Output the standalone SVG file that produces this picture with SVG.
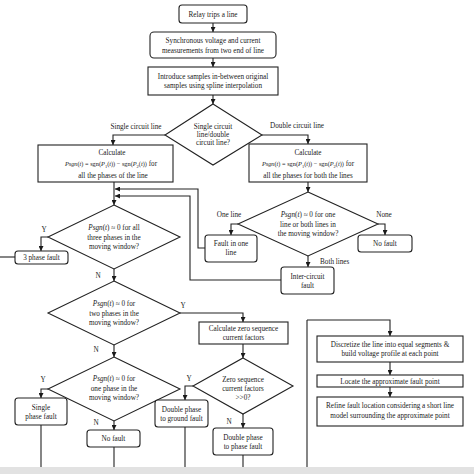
<svg xmlns="http://www.w3.org/2000/svg" width="474" height="474" viewBox="0 0 474 474">
<defs>
<style>
.b{fill:#fff;stroke:#222;stroke-width:1.1}
.l{fill:none;stroke:#222;stroke-width:1.1}
.a{fill:none;stroke:#222;stroke-width:1.1;marker-end:url(#ah)}
text{font-family:"Liberation Serif","Times New Roman",serif;font-size:7.2px;fill:#1a1a1a;text-anchor:middle}
.s{text-anchor:start}
.i{font-style:italic}
.fm{font-size:6.3px}
.sb{font-size:4.5px}
</style>
<marker id="ah" viewBox="0 0 6 6" refX="6" refY="3" markerWidth="5" markerHeight="5" orient="auto" markerUnits="userSpaceOnUse"><path d="M0,0 L6,3 L0,6 z" fill="#1a1a1a"/></marker>
</defs>
<rect x="0" y="0" width="474" height="474" fill="#fff"/>
<rect x="0" y="467" width="474" height="7" fill="#e2e2e2"/>

<g id="connectors">
<path class="a" d="M213,23 V32"/>
<path class="a" d="M213,58 V67"/>
<path class="a" d="M213,95 V104"/>
<path class="a" d="M165,135 H113 V145"/>
<path class="a" d="M262,135 H308 V144"/>
<path class="a" d="M114,182 V205"/>
<path class="a" d="M308,182 V192"/>
<path class="a" d="M205,248 H198 V189 H115"/>
<path class="a" d="M281,280 H190 V196 H115"/>
<path class="a" d="M238,224 H231 V235"/>
<path class="a" d="M378,224 H385 V235"/>
<path class="a" d="M308,256 V267"/>
<path class="a" d="M48,237 H41 V251"/>
<path class="l" d="M0,257 H15"/>
<path class="a" d="M114,269 V281"/>
<path class="a" d="M180,313 H243 V322"/>
<path class="a" d="M114,345 V357"/>
<path class="a" d="M243,344 V358"/>
<path class="a" d="M48,389 H41 V398"/>
<path class="a" d="M114,421 V430"/>
<path class="a" d="M193,386 H185 V400"/>
<path class="a" d="M243,414 V428"/>
<path class="l" d="M41,425 V467"/>
<path class="l" d="M114,447 V467"/>
<path class="l" d="M185,427 V467"/>
<path class="l" d="M243,455 V467"/>
<path class="l" d="M307,467 V320"/>
<path class="a" d="M307,320 H390 V336"/>
<path class="a" d="M390,362 V375"/>
<path class="a" d="M390,387 V397"/>
<text x="136" y="129">Single circuit line</text>
<text x="297" y="128">Double circuit line</text>
<text x="229" y="217">One line</text>
<text x="384" y="217">None</text>
<text class="s" x="320" y="264">Both lines</text>
<text x="44" y="232">Y</text>
<text x="98" y="278">N</text>
<text x="183" y="308">Y</text>
<text x="96" y="352">N</text>
<text x="43" y="382">Y</text>
<text x="96" y="425">N</text>
<text x="189" y="381">Y</text>
<text x="229" y="424">N</text>
</g>

<g id="relay"><rect class="b" x="179" y="5" width="68" height="18" rx="3"/><text x="213" y="16.5">Relay trips a line</text></g>
<g id="sync"><rect class="b" x="150" y="32" width="126" height="26" rx="4"/><text x="213" y="43">Synchronous voltage and current</text><text x="213" y="52.5">measurements from two end of line</text></g>
<g id="introduce"><rect class="b" x="148" y="67" width="130" height="28"/><text x="213" y="78.5">Introduce samples in-between original</text><text x="213" y="88">samples using spline interpolation</text></g>
<g id="d1"><polygon class="b" points="213,104 262,135 213,165 165,135"/><text x="213" y="128.5">Single circuit</text><text x="213" y="136.5">line/double</text><text x="213" y="144.5">circuit line?</text></g>
<g id="calc1"><rect class="b" x="38" y="145" width="135" height="37"/><text x="112" y="155">Calculate</text>
<text x="111" y="166"><tspan class="fm"><tspan class="i">Psgn</tspan>(<tspan class="i">t</tspan>) = sgn(<tspan class="i">P</tspan><tspan class="sb" baseline-shift="-1.5">1</tspan>(<tspan class="i">t</tspan>)) − sgn(<tspan class="i">P</tspan><tspan class="sb" baseline-shift="-1.5">2</tspan>(<tspan class="i">t</tspan>))</tspan> for</text>
<text x="113" y="177.5">all the phases of the line</text></g>
<g id="calc2"><rect class="b" x="249" y="144" width="118" height="38"/><text x="308" y="155">Calculate</text>
<text x="308" y="166"><tspan class="fm"><tspan class="i">Psgn</tspan>(<tspan class="i">t</tspan>) = sgn(<tspan class="i">P</tspan><tspan class="sb" baseline-shift="-1.5">1</tspan>(<tspan class="i">t</tspan>)) − sgn(<tspan class="i">P</tspan><tspan class="sb" baseline-shift="-1.5">2</tspan>(<tspan class="i">t</tspan>))</tspan> for</text>
<text x="308" y="177.5">all the phases for both the lines</text></g>
<g id="dR"><polygon class="b" points="308,192 378,224 308,256 238,224"/><text x="308" y="217"><tspan class="i">Psgn</tspan>(<tspan class="i">t</tspan>) ≈ 0 for one</text><text x="308" y="227">line or both lines in</text><text x="308" y="236">the moving window?</text></g>
<g id="faultone"><rect class="b" x="205" y="235" width="52" height="27" rx="3"/><text x="231" y="246">Fault in one</text><text x="231" y="255">line</text></g>
<g id="nofaultR"><rect class="b" x="358" y="235" width="54" height="17" rx="3"/><text x="385" y="246">No fault</text></g>
<g id="inter"><rect class="b" x="281" y="267" width="53" height="27" rx="3"/><text x="307.5" y="278.5">Inter-circuit</text><text x="307.5" y="287.5">fault</text></g>
<g id="d2"><polygon class="b" points="114,205 180,237 114,269 48,237"/><text x="114" y="230"><tspan class="i">Psgn</tspan>(<tspan class="i">t</tspan>) ≈ 0 for all</text><text x="114" y="240">three phases in the</text><text x="114" y="249">moving window?</text></g>
<g id="phase3"><rect class="b" x="15" y="251" width="53" height="13" rx="3"/><text x="41.5" y="260">3 phase fault</text></g>
<g id="d3"><polygon class="b" points="114,281 180,313 114,345 48,313"/><text x="114" y="305.5"><tspan class="i">Psgn</tspan>(<tspan class="i">t</tspan>) ≈ 0 for</text><text x="114" y="315.5">two phases in the</text><text x="114" y="324.5">moving window?</text></g>
<g id="zeroseq"><rect class="b" x="199" y="322" width="89" height="22"/><text x="243.5" y="331">Calculate zero sequence</text><text x="243.5" y="340">current factors</text></g>
<g id="d4"><polygon class="b" points="114,357 180,389 114,421 48,389"/><text x="114" y="381"><tspan class="i">Psgn</tspan>(<tspan class="i">t</tspan>) ≈ 0 for</text><text x="114" y="391">one phase in the</text><text x="114" y="400">moving window?</text></g>
<g id="dz"><polygon class="b" points="243,358 293,386 243,414 193,386"/><text x="243" y="382">Zero sequence</text><text x="243" y="391">current factors</text><text x="243" y="400">&gt;&gt;0?</text></g>
<g id="single"><rect class="b" x="15" y="398" width="52" height="27" rx="3"/><text x="41" y="409.5">Single</text><text x="41" y="418.5">phase fault</text></g>
<g id="nofaultL"><rect class="b" x="87" y="430" width="53" height="17" rx="3"/><text x="113.5" y="441">No fault</text></g>
<g id="dpg"><rect class="b" x="155" y="400" width="53" height="27" rx="3"/><text x="181.5" y="411.5">Double phase</text><text x="181.5" y="420.5">to ground fault</text></g>
<g id="dpp"><rect class="b" x="213" y="428" width="60" height="27" rx="3"/><text x="243" y="439.5">Double phase</text><text x="243" y="448.5">to phase fault</text></g>
<g id="discretize"><rect class="b" x="317" y="336" width="146" height="26"/><text x="390" y="346.5">Discretize the line into equal segments &amp;</text><text x="390" y="355.5">build voltage profile at each point</text></g>
<g id="locate"><rect class="b" x="317" y="375" width="146" height="12"/><text x="390" y="383.5">Locate the approximate fault point</text></g>
<g id="refine"><rect class="b" x="317" y="397" width="146" height="29"/><text x="390" y="408">Refine fault location considering a short line</text><text x="390" y="417.5">model surrounding the approximate point</text></g>
</svg>
